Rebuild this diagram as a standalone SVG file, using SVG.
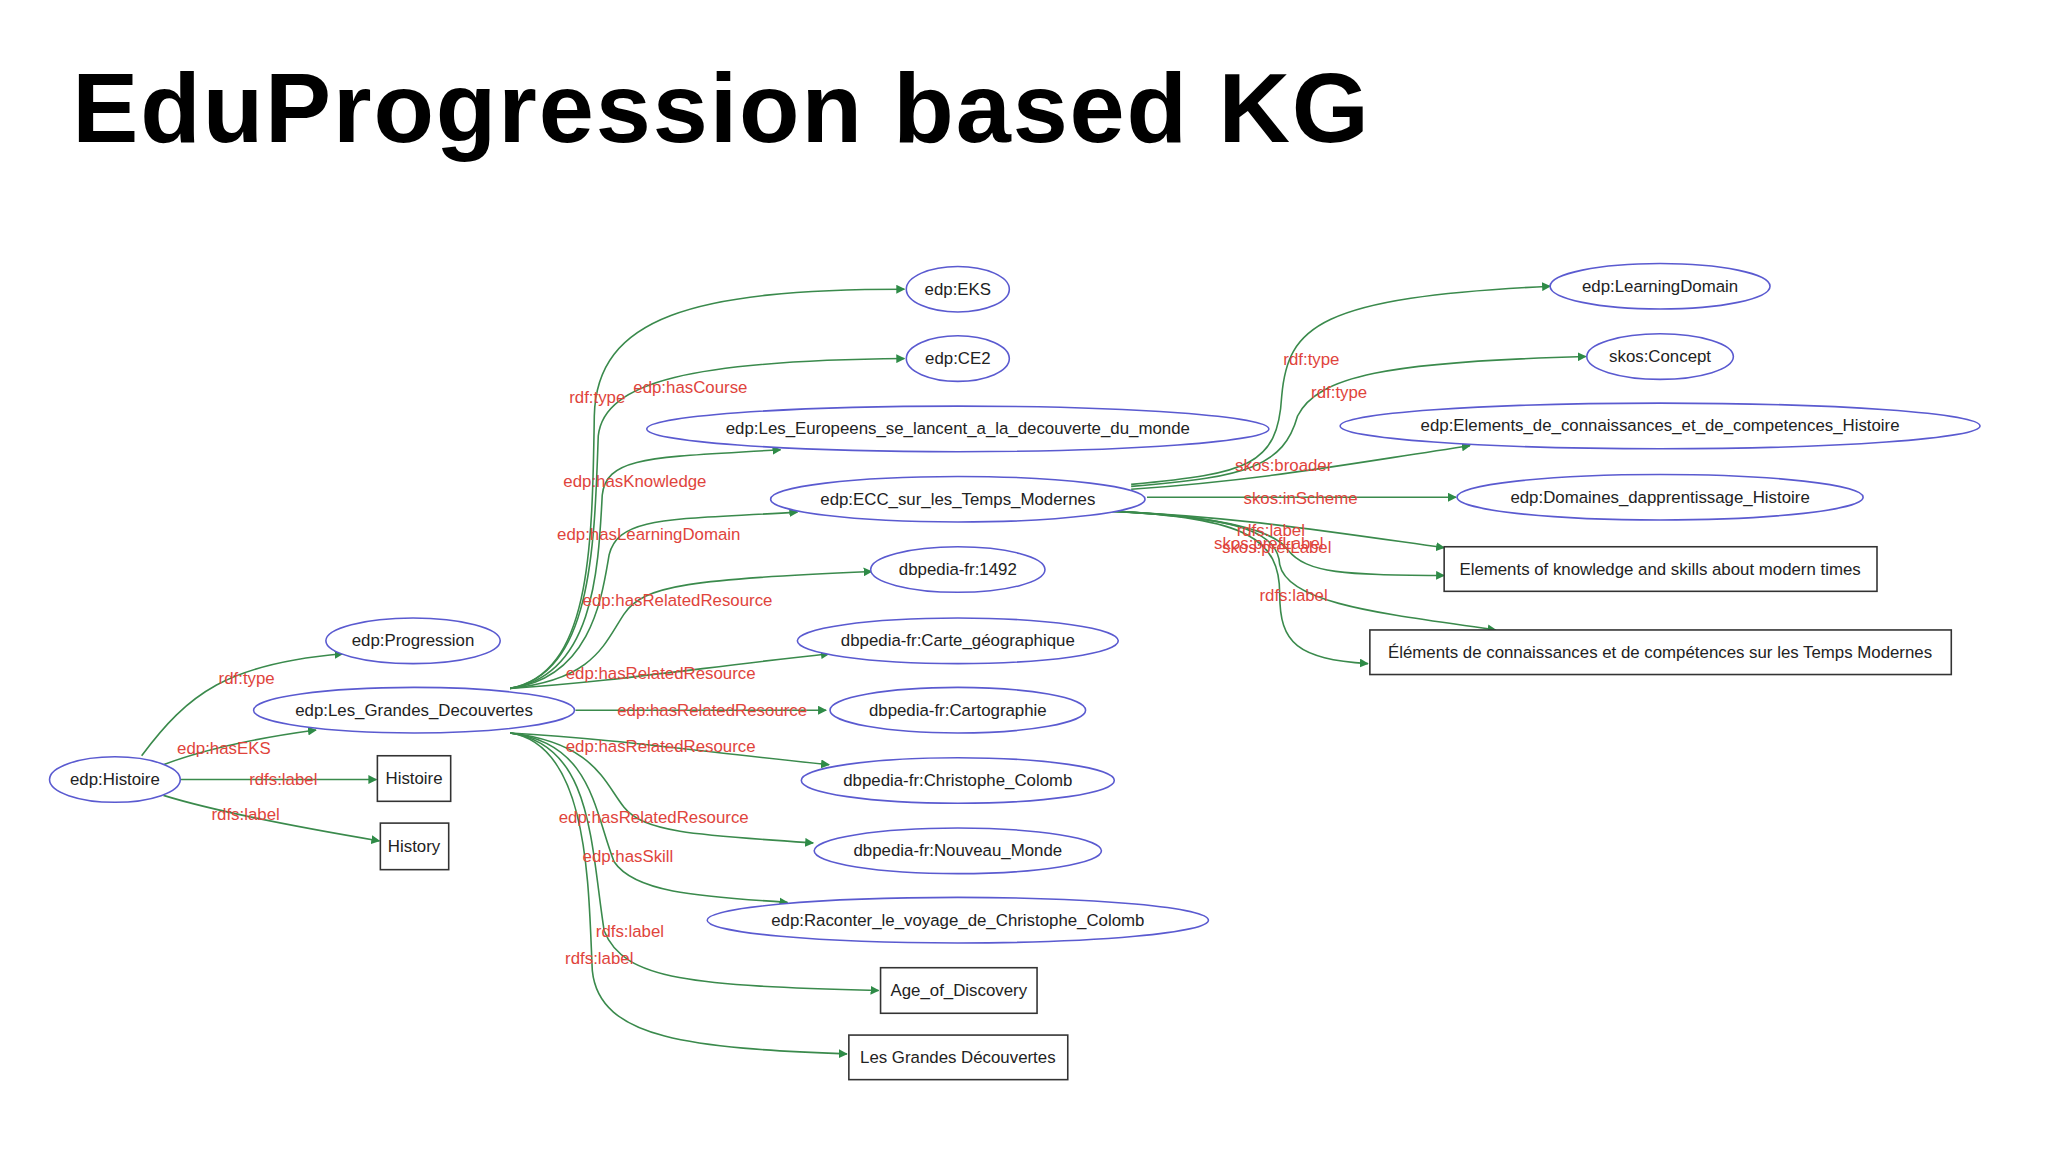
<svg xmlns="http://www.w3.org/2000/svg" width="2048" height="1152" viewBox="0 0 2048 1152">
<defs>
<marker id="ah" viewBox="0 0 10 10" refX="9" refY="5" markerWidth="9" markerHeight="9" markerUnits="userSpaceOnUse" orient="auto"><path d="M0,0 L10,5 L0,10 z" fill="#2e8b47"/></marker>
<style>
.e{fill:none;stroke:#3a8a4c;stroke-width:1.6;marker-end:url(#ah)}
.n ellipse{fill:#fff;stroke:#5a5ad0;stroke-width:1.6}
.n rect{fill:#fff;stroke:#333;stroke-width:1.6}
.t{font-family:"Liberation Sans",Arial,sans-serif;font-size:17px;fill:#222;text-anchor:middle;dominant-baseline:central}
.l{font-family:"Liberation Sans",Arial,sans-serif;font-size:17px;fill:#e0443c;text-anchor:middle;dominant-baseline:central}
</style>
</defs>
<rect width="2048" height="1152" fill="#fff"/>
<g transform="scale(0.9905)">
<text x="73" y="143" font-family="'Liberation Sans',Arial,sans-serif" font-weight="bold" font-size="100" textLength="1309" fill="#000">EduProgression based KG</text>
<g id="connectors">
<path class="e" d="M143,763 C190,700 230,670 346,660"/>
<path class="e" d="M165,772 C210,755 260,745 319,737"/>
<path class="e" d="M182,787 L380,787"/>
<path class="e" d="M165,803 C220,820 300,835 383,849"/>
<path class="e" d="M515,695 C595,680 598,560 600,420 C602,320 700,292 913,292"/>
<path class="e" d="M515,695 C596,680 600,560 604,440 C610,385 700,364 913,362"/>
<path class="e" d="M515,695 C598,682 604,580 608,500 C612,460 660,462 788,454"/>
<path class="e" d="M515,695 C598,684 608,600 615,560 C625,520 680,525 805,517"/>
<path class="e" d="M515,695 C600,686 610,650 630,620 C650,590 700,585 880,577"/>
<path class="e" d="M515,695 C620,688 700,675 837,660"/>
<path class="e" d="M581,717 L834,717"/>
<path class="e" d="M515,740 C620,746 700,758 837,772"/>
<path class="e" d="M515,740 C600,750 610,790 630,815 C650,840 700,843 821,851"/>
<path class="e" d="M515,740 C598,750 600,820 620,870 C640,900 700,905 795,911"/>
<path class="e" d="M515,740 C598,752 596,850 610,940 C630,990 700,995 887,1000"/>
<path class="e" d="M515,740 C596,752 594,900 598,980 C605,1050 700,1058 855,1064"/>
<path class="e" d="M1142,489 C1260,478 1290,470 1294,400 C1300,330 1330,300 1565,289"/>
<path class="e" d="M1142,491 C1260,482 1296,470 1310,420 C1330,380 1400,365 1601,360"/>
<path class="e" d="M1142,494 C1280,484 1350,470 1484,450"/>
<path class="e" d="M1158,502 L1470,502"/>
<path class="e" d="M1120,516 C1250,522 1330,535 1458,553"/>
<path class="e" d="M1120,516 C1250,522 1290,540 1300,555 C1320,580 1360,580 1458,581"/>
<path class="e" d="M1120,516 C1260,522 1290,540 1292,570 C1300,610 1400,620 1510,636"/>
<path class="e" d="M1120,516 C1260,522 1292,545 1292,600 C1292,650 1310,665 1381,670"/>
<text class="l" x="249" y="685">rdf:type</text>
<text class="l" x="226" y="756">edp:hasEKS</text>
<text class="l" x="286" y="787">rdfs:label</text>
<text class="l" x="248" y="822">rdfs:label</text>
<text class="l" x="603" y="401">rdf:type</text>
<text class="l" x="697" y="391">edp:hasCourse</text>
<text class="l" x="641" y="486">edp:hasKnowledge</text>
<text class="l" x="655" y="540">edp:hasLearningDomain</text>
<text class="l" x="684" y="606">edp:hasRelatedResource</text>
<text class="l" x="667" y="680">edp:hasRelatedResource</text>
<text class="l" x="719" y="717">edp:hasRelatedResource</text>
<text class="l" x="667" y="754">edp:hasRelatedResource</text>
<text class="l" x="660" y="825">edp:hasRelatedResource</text>
<text class="l" x="634" y="865">edp:hasSkill</text>
<text class="l" x="636" y="940">rdfs:label</text>
<text class="l" x="605" y="968">rdfs:label</text>
<text class="l" x="1324" y="363">rdf:type</text>
<text class="l" x="1352" y="396">rdf:type</text>
<text class="l" x="1296" y="470">skos:broader</text>
<text class="l" x="1313" y="503">skos:inScheme</text>
<text class="l" x="1283" y="536">rdfs:label</text>
<text class="l" x="1281" y="549">skos:prefLabel</text>
<text class="l" x="1289" y="553">skos:prefLabel</text>
<text class="l" x="1306" y="601">rdfs:label</text>
</g>
<g id="histoire" class="n"><ellipse cx="116" cy="787" rx="66" ry="23"/><text class="t" x="116" y="787">edp:Histoire</text></g>
<g id="progression" class="n"><ellipse cx="417" cy="647" rx="88" ry="23"/><text class="t" x="417" y="647">edp:Progression</text></g>
<g id="lgd" class="n"><ellipse cx="418" cy="717" rx="162" ry="23"/><text class="t" x="418" y="717">edp:Les_Grandes_Decouvertes</text></g>
<g id="histoire-lbl" class="n"><rect x="381" y="763" width="74" height="46"/><text class="t" x="418" y="786">Histoire</text></g>
<g id="history-lbl" class="n"><rect x="384" y="831" width="69" height="47"/><text class="t" x="418" y="855">History</text></g>
<g id="eks" class="n"><ellipse cx="967" cy="292" rx="52" ry="23"/><text class="t" x="967" y="292">edp:EKS</text></g>
<g id="ce2" class="n"><ellipse cx="967" cy="362" rx="52" ry="23"/><text class="t" x="967" y="362">edp:CE2</text></g>
<g id="europeens" class="n"><ellipse cx="967" cy="433" rx="314" ry="23"/><text class="t" x="967" y="433">edp:Les_Europeens_se_lancent_a_la_decouverte_du_monde</text></g>
<g id="ecc" class="n"><ellipse cx="967" cy="504" rx="189" ry="23"/><text class="t" x="967" y="504">edp:ECC_sur_les_Temps_Modernes</text></g>
<g id="d1492" class="n"><ellipse cx="967" cy="575" rx="88" ry="23"/><text class="t" x="967" y="575">dbpedia-fr:1492</text></g>
<g id="carte" class="n"><ellipse cx="967" cy="647" rx="162" ry="23"/><text class="t" x="967" y="647">dbpedia-fr:Carte_géographique</text></g>
<g id="cartographie" class="n"><ellipse cx="967" cy="717" rx="129" ry="23"/><text class="t" x="967" y="717">dbpedia-fr:Cartographie</text></g>
<g id="colomb" class="n"><ellipse cx="967" cy="788" rx="158" ry="23"/><text class="t" x="967" y="788">dbpedia-fr:Christophe_Colomb</text></g>
<g id="nouveau" class="n"><ellipse cx="967" cy="859" rx="145" ry="23"/><text class="t" x="967" y="859">dbpedia-fr:Nouveau_Monde</text></g>
<g id="raconter" class="n"><ellipse cx="967" cy="929" rx="253" ry="23"/><text class="t" x="967" y="929">edp:Raconter_le_voyage_de_Christophe_Colomb</text></g>
<g id="age" class="n"><rect x="889" y="977" width="158" height="46"/><text class="t" x="968" y="1000">Age_of_Discovery</text></g>
<g id="lgd-lbl" class="n"><rect x="857" y="1045" width="221" height="45"/><text class="t" x="967" y="1068">Les Grandes Découvertes</text></g>
<g id="learningdomain" class="n"><ellipse cx="1676" cy="289" rx="111" ry="23"/><text class="t" x="1676" y="289">edp:LearningDomain</text></g>
<g id="concept" class="n"><ellipse cx="1676" cy="360" rx="74" ry="23"/><text class="t" x="1676" y="360">skos:Concept</text></g>
<g id="elements" class="n"><ellipse cx="1676" cy="430" rx="323" ry="23"/><text class="t" x="1676" y="430">edp:Elements_de_connaissances_et_de_competences_Histoire</text></g>
<g id="domaines" class="n"><ellipse cx="1676" cy="502" rx="205" ry="23"/><text class="t" x="1676" y="502">edp:Domaines_dapprentissage_Histoire</text></g>
<g id="eok" class="n"><rect x="1458" y="552" width="437" height="45"/><text class="t" x="1676" y="575">Elements of knowledge and skills about modern times</text></g>
<g id="edc" class="n"><rect x="1383" y="636" width="587" height="45"/><text class="t" x="1676" y="659">Éléments de connaissances et de compétences sur les Temps Modernes</text></g>
</g>
</svg>
